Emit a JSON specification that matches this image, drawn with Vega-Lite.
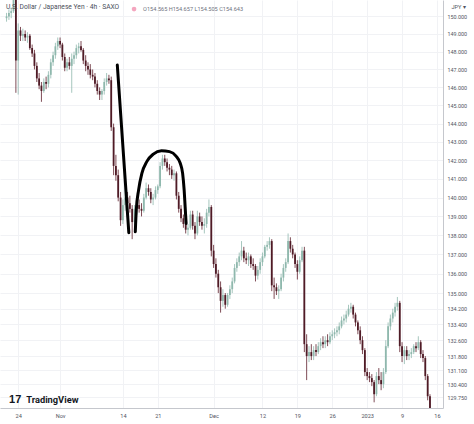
{
  "$schema": "https://vega.github.io/schema/vega-lite/v6.json",
  "width": 443,
  "height": 408,
  "autosize": {"type": "none"},
  "padding": {"left": 0, "top": 0, "right": 31, "bottom": 16},
  "background": "white",
  "config": {"view": {"stroke": null}, "font": "Roboto"},
  "title": {"text": "U.S. Dollar / Japanese Yen · 4h · SAXO", "anchor": "start", "frame": "group", "offset": -11, "dx": 6, "fontSize": 6.7, "fontWeight": "normal", "color": "#4a4e5a", "font": "Roboto"},
  "datasets": {
    "k": [
      {"x":-1.67,"o":149.9,"h":150.2,"l":149.7,"c":150.0},
      {"x":-1.33,"o":150.0,"h":150.4,"l":149.8,"c":150.2},
      {"x":-1.0,"o":150.2,"h":150.5,"l":149.9,"c":150.3},
      {"x":-0.67,"o":150.3,"h":151.9,"l":150.2,"c":151.5},
      {"x":-0.33,"o":151.5,"h":151.9,"l":145.7,"c":147.5},
      {"x":0.0,"o":147.5,"h":149.6,"l":145.6,"c":149.2},
      {"x":0.33,"o":149.2,"h":149.4,"l":148.6,"c":148.9},
      {"x":0.67,"o":148.9,"h":149.3,"l":148.6,"c":149.0},
      {"x":1.0,"o":149.0,"h":149.2,"l":148.6,"c":148.8},
      {"x":1.33,"o":148.8,"h":149.1,"l":148.5,"c":148.9},
      {"x":1.67,"o":148.9,"h":149.0,"l":148.1,"c":148.2},
      {"x":2.0,"o":148.2,"h":148.4,"l":147.7,"c":147.9},
      {"x":2.33,"o":147.9,"h":148.1,"l":147.0,"c":147.2},
      {"x":2.67,"o":147.2,"h":147.4,"l":146.3,"c":146.5},
      {"x":3.0,"o":146.5,"h":146.8,"l":145.9,"c":146.1},
      {"x":3.33,"o":146.1,"h":146.3,"l":145.2,"c":145.8},
      {"x":3.67,"o":145.8,"h":146.5,"l":145.7,"c":146.3},
      {"x":4.0,"o":146.3,"h":146.6,"l":145.9,"c":146.2},
      {"x":4.33,"o":146.2,"h":146.9,"l":146.0,"c":146.7},
      {"x":4.67,"o":146.7,"h":147.6,"l":146.5,"c":147.4},
      {"x":5.0,"o":147.4,"h":148.0,"l":147.2,"c":147.8},
      {"x":5.33,"o":147.8,"h":148.5,"l":147.6,"c":148.3},
      {"x":5.67,"o":148.3,"h":148.8,"l":148.1,"c":148.6},
      {"x":6.0,"o":148.6,"h":148.8,"l":148.2,"c":148.4},
      {"x":6.33,"o":148.4,"h":148.5,"l":147.5,"c":147.7},
      {"x":6.67,"o":147.7,"h":147.9,"l":146.9,"c":147.1},
      {"x":7.0,"o":147.1,"h":147.6,"l":146.9,"c":147.4},
      {"x":7.33,"o":147.4,"h":147.7,"l":147.0,"c":147.2},
      {"x":7.67,"o":147.2,"h":147.9,"l":145.7,"c":147.6},
      {"x":8.0,"o":147.6,"h":148.0,"l":147.3,"c":147.8},
      {"x":8.33,"o":147.8,"h":148.4,"l":147.6,"c":148.2},
      {"x":8.67,"o":148.2,"h":148.5,"l":147.9,"c":148.3},
      {"x":9.0,"o":148.3,"h":148.6,"l":148.0,"c":148.1},
      {"x":9.33,"o":148.1,"h":148.2,"l":147.3,"c":147.5},
      {"x":9.67,"o":147.5,"h":147.8,"l":146.9,"c":147.2},
      {"x":10.0,"o":147.2,"h":147.4,"l":146.7,"c":147.0},
      {"x":10.33,"o":147.0,"h":147.3,"l":146.5,"c":146.7},
      {"x":10.67,"o":146.7,"h":147.0,"l":146.4,"c":146.6},
      {"x":11.0,"o":146.6,"h":146.8,"l":146.0,"c":146.2},
      {"x":11.33,"o":146.2,"h":146.4,"l":145.6,"c":145.8},
      {"x":11.67,"o":145.8,"h":146.0,"l":145.3,"c":145.6},
      {"x":12.0,"o":145.6,"h":145.9,"l":145.3,"c":145.8},
      {"x":12.33,"o":145.8,"h":146.5,"l":145.6,"c":146.3},
      {"x":12.67,"o":146.3,"h":146.8,"l":146.1,"c":146.5},
      {"x":13.0,"o":146.5,"h":146.7,"l":146.2,"c":146.4},
      {"x":13.33,"o":146.4,"h":146.6,"l":143.6,"c":143.8},
      {"x":13.67,"o":143.8,"h":144.0,"l":141.2,"c":141.7},
      {"x":14.0,"o":141.7,"h":142.3,"l":140.9,"c":141.2},
      {"x":14.33,"o":141.2,"h":141.5,"l":139.8,"c":140.0},
      {"x":14.67,"o":140.0,"h":140.3,"l":138.5,"c":138.8},
      {"x":15.0,"o":138.8,"h":139.9,"l":138.6,"c":139.6},
      {"x":15.33,"o":139.6,"h":140.5,"l":139.3,"c":140.0},
      {"x":15.67,"o":140.0,"h":140.3,"l":139.4,"c":139.7},
      {"x":16.0,"o":139.7,"h":140.1,"l":139.2,"c":139.4},
      {"x":16.33,"o":139.4,"h":139.6,"l":137.8,"c":138.7},
      {"x":16.67,"o":138.7,"h":139.6,"l":138.5,"c":139.4},
      {"x":17.0,"o":139.4,"h":139.8,"l":139.1,"c":139.6},
      {"x":17.33,"o":139.6,"h":139.9,"l":139.2,"c":139.4},
      {"x":17.67,"o":139.4,"h":139.7,"l":139.0,"c":139.3},
      {"x":18.0,"o":139.3,"h":140.2,"l":139.2,"c":140.0},
      {"x":18.33,"o":140.0,"h":140.8,"l":139.9,"c":140.5},
      {"x":18.67,"o":140.5,"h":140.7,"l":140.1,"c":140.3},
      {"x":19.0,"o":140.3,"h":140.5,"l":139.7,"c":139.9},
      {"x":19.33,"o":139.9,"h":140.2,"l":139.6,"c":140.0},
      {"x":19.67,"o":140.0,"h":140.6,"l":139.9,"c":140.4},
      {"x":20.0,"o":140.4,"h":140.7,"l":140.2,"c":140.6},
      {"x":20.33,"o":140.6,"h":141.9,"l":140.5,"c":141.7},
      {"x":20.67,"o":141.7,"h":142.3,"l":141.5,"c":142.1},
      {"x":21.0,"o":142.1,"h":142.3,"l":141.7,"c":141.9},
      {"x":21.33,"o":141.9,"h":142.1,"l":141.4,"c":141.6},
      {"x":21.67,"o":141.6,"h":141.8,"l":141.2,"c":141.5},
      {"x":22.0,"o":141.5,"h":141.7,"l":141.0,"c":141.2},
      {"x":22.33,"o":141.2,"h":141.5,"l":140.9,"c":141.3},
      {"x":22.67,"o":141.3,"h":141.4,"l":139.9,"c":140.1},
      {"x":23.0,"o":140.1,"h":140.3,"l":139.2,"c":139.4},
      {"x":23.33,"o":139.4,"h":139.6,"l":138.7,"c":138.9},
      {"x":23.67,"o":138.9,"h":139.1,"l":138.4,"c":138.6},
      {"x":24.0,"o":138.6,"h":138.8,"l":138.1,"c":138.3},
      {"x":24.33,"o":138.3,"h":138.6,"l":138.0,"c":138.4},
      {"x":24.67,"o":138.4,"h":139.3,"l":138.3,"c":139.1},
      {"x":25.0,"o":139.1,"h":139.3,"l":138.3,"c":138.5},
      {"x":25.33,"o":138.5,"h":138.7,"l":137.8,"c":138.1},
      {"x":25.67,"o":138.1,"h":139.3,"l":138.0,"c":139.0},
      {"x":26.0,"o":139.0,"h":139.2,"l":138.5,"c":138.7},
      {"x":26.33,"o":138.7,"h":139.0,"l":138.3,"c":138.5},
      {"x":26.67,"o":138.5,"h":138.9,"l":138.1,"c":138.6},
      {"x":27.0,"o":138.6,"h":139.4,"l":138.4,"c":139.2},
      {"x":27.33,"o":139.2,"h":139.9,"l":139.0,"c":139.5},
      {"x":27.67,"o":139.5,"h":139.6,"l":136.9,"c":137.2},
      {"x":28.0,"o":137.2,"h":137.5,"l":136.3,"c":136.5},
      {"x":28.33,"o":136.5,"h":136.8,"l":135.8,"c":136.0},
      {"x":28.67,"o":136.0,"h":136.2,"l":135.0,"c":135.3},
      {"x":29.0,"o":135.3,"h":135.6,"l":134.0,"c":134.6},
      {"x":29.33,"o":134.6,"h":135.2,"l":134.3,"c":134.9},
      {"x":29.67,"o":134.9,"h":135.0,"l":134.2,"c":134.4},
      {"x":30.0,"o":134.4,"h":135.0,"l":134.3,"c":134.9},
      {"x":30.33,"o":134.9,"h":135.4,"l":134.7,"c":135.2},
      {"x":30.67,"o":135.2,"h":135.8,"l":135.0,"c":135.6},
      {"x":31.0,"o":135.6,"h":136.5,"l":135.5,"c":136.3},
      {"x":31.33,"o":136.3,"h":136.8,"l":136.1,"c":136.6},
      {"x":31.67,"o":136.6,"h":137.1,"l":136.4,"c":136.9},
      {"x":32.0,"o":136.9,"h":137.7,"l":136.7,"c":137.2},
      {"x":32.33,"o":137.2,"h":137.4,"l":136.6,"c":136.8},
      {"x":32.67,"o":136.8,"h":137.1,"l":136.5,"c":136.7},
      {"x":33.0,"o":136.7,"h":137.1,"l":136.4,"c":136.9},
      {"x":33.33,"o":136.9,"h":137.0,"l":136.3,"c":136.5},
      {"x":33.67,"o":136.5,"h":136.8,"l":136.2,"c":136.4},
      {"x":34.0,"o":136.4,"h":136.5,"l":135.6,"c":135.9},
      {"x":34.33,"o":135.9,"h":136.4,"l":135.7,"c":136.2},
      {"x":34.67,"o":136.2,"h":136.8,"l":136.0,"c":136.6},
      {"x":35.0,"o":136.6,"h":137.1,"l":136.4,"c":136.9},
      {"x":35.33,"o":136.9,"h":137.5,"l":136.8,"c":137.4},
      {"x":35.67,"o":137.4,"h":137.7,"l":137.2,"c":137.5},
      {"x":36.0,"o":137.5,"h":137.9,"l":137.3,"c":137.7},
      {"x":36.33,"o":137.7,"h":137.8,"l":135.1,"c":135.4},
      {"x":36.67,"o":135.4,"h":135.8,"l":134.7,"c":135.3},
      {"x":37.0,"o":135.3,"h":135.5,"l":134.9,"c":135.1},
      {"x":37.33,"o":135.1,"h":135.4,"l":134.7,"c":135.2},
      {"x":37.67,"o":135.2,"h":136.0,"l":135.1,"c":135.8},
      {"x":38.0,"o":135.8,"h":136.5,"l":135.6,"c":136.3},
      {"x":38.33,"o":136.3,"h":136.8,"l":136.1,"c":136.6},
      {"x":38.67,"o":136.6,"h":138.1,"l":136.5,"c":137.7},
      {"x":39.0,"o":137.7,"h":137.9,"l":137.1,"c":137.3},
      {"x":39.33,"o":137.3,"h":137.5,"l":136.8,"c":137.0},
      {"x":39.67,"o":137.0,"h":137.1,"l":136.3,"c":136.5},
      {"x":40.0,"o":136.5,"h":136.7,"l":135.7,"c":136.1},
      {"x":40.33,"o":136.1,"h":136.9,"l":136.0,"c":136.7},
      {"x":40.67,"o":136.7,"h":137.4,"l":136.6,"c":137.2},
      {"x":41.0,"o":137.2,"h":137.4,"l":132.0,"c":132.4},
      {"x":41.33,"o":132.4,"h":132.9,"l":130.6,"c":131.8},
      {"x":41.67,"o":131.8,"h":132.3,"l":131.5,"c":132.0},
      {"x":42.0,"o":132.0,"h":132.4,"l":131.6,"c":131.8},
      {"x":42.33,"o":131.8,"h":132.3,"l":131.6,"c":132.1},
      {"x":42.67,"o":132.1,"h":132.4,"l":131.8,"c":132.0},
      {"x":43.0,"o":132.0,"h":132.5,"l":131.9,"c":132.3},
      {"x":43.33,"o":132.3,"h":132.7,"l":132.1,"c":132.5},
      {"x":43.67,"o":132.5,"h":132.8,"l":132.2,"c":132.4},
      {"x":44.0,"o":132.4,"h":132.8,"l":132.2,"c":132.6},
      {"x":44.33,"o":132.6,"h":132.9,"l":132.3,"c":132.5},
      {"x":44.67,"o":132.5,"h":133.0,"l":132.4,"c":132.8},
      {"x":45.0,"o":132.8,"h":133.1,"l":132.6,"c":132.9},
      {"x":45.33,"o":132.9,"h":133.2,"l":132.7,"c":133.0},
      {"x":45.67,"o":133.0,"h":133.3,"l":132.8,"c":133.1},
      {"x":46.0,"o":133.1,"h":133.5,"l":132.9,"c":133.3},
      {"x":46.33,"o":133.3,"h":133.8,"l":133.2,"c":133.6},
      {"x":46.67,"o":133.6,"h":133.9,"l":133.4,"c":133.7},
      {"x":47.0,"o":133.7,"h":134.1,"l":133.5,"c":133.9},
      {"x":47.33,"o":133.9,"h":134.4,"l":133.8,"c":134.2},
      {"x":47.67,"o":134.2,"h":134.5,"l":134.0,"c":134.3},
      {"x":48.0,"o":134.3,"h":134.4,"l":133.7,"c":133.9},
      {"x":48.33,"o":133.9,"h":134.0,"l":133.3,"c":133.5},
      {"x":48.67,"o":133.5,"h":133.6,"l":132.9,"c":133.1},
      {"x":49.0,"o":133.1,"h":133.3,"l":132.4,"c":132.6},
      {"x":49.33,"o":132.6,"h":132.8,"l":131.9,"c":132.1},
      {"x":49.67,"o":132.1,"h":132.2,"l":130.8,"c":131.0},
      {"x":50.0,"o":131.0,"h":131.2,"l":130.6,"c":130.8},
      {"x":50.33,"o":130.8,"h":131.0,"l":130.5,"c":130.7},
      {"x":50.67,"o":130.7,"h":130.9,"l":130.3,"c":130.5},
      {"x":51.0,"o":130.5,"h":130.6,"l":129.5,"c":129.9},
      {"x":51.33,"o":129.9,"h":131.0,"l":129.8,"c":130.8},
      {"x":51.67,"o":130.8,"h":131.2,"l":130.4,"c":130.6},
      {"x":52.0,"o":130.6,"h":131.0,"l":130.1,"c":130.4},
      {"x":52.33,"o":130.4,"h":131.2,"l":130.2,"c":131.0},
      {"x":52.67,"o":131.0,"h":132.6,"l":130.9,"c":132.3},
      {"x":53.0,"o":132.3,"h":133.5,"l":132.2,"c":133.3},
      {"x":53.33,"o":133.3,"h":133.9,"l":133.1,"c":133.7},
      {"x":53.67,"o":133.7,"h":134.2,"l":133.5,"c":134.0},
      {"x":54.0,"o":134.0,"h":134.5,"l":133.8,"c":134.3},
      {"x":54.33,"o":134.3,"h":134.8,"l":134.1,"c":134.5},
      {"x":54.67,"o":134.5,"h":134.6,"l":132.0,"c":132.3},
      {"x":55.0,"o":132.3,"h":132.5,"l":131.5,"c":131.8},
      {"x":55.33,"o":131.8,"h":132.3,"l":131.4,"c":132.1},
      {"x":55.67,"o":132.1,"h":132.3,"l":131.6,"c":131.8},
      {"x":56.0,"o":131.8,"h":132.1,"l":131.6,"c":131.9},
      {"x":56.33,"o":131.9,"h":132.2,"l":131.7,"c":132.0},
      {"x":56.67,"o":132.0,"h":132.4,"l":131.9,"c":132.3},
      {"x":57.0,"o":132.3,"h":132.5,"l":132.0,"c":132.2},
      {"x":57.33,"o":132.2,"h":132.8,"l":132.1,"c":132.5},
      {"x":57.67,"o":132.5,"h":132.6,"l":131.7,"c":131.9},
      {"x":58.0,"o":131.9,"h":132.1,"l":131.5,"c":131.7},
      {"x":58.33,"o":131.7,"h":131.8,"l":130.6,"c":130.8},
      {"x":58.67,"o":130.8,"h":130.9,"l":129.6,"c":129.8},
      {"x":59.0,"o":129.8,"h":129.9,"l":128.8,"c":129.0}
    ],
    "a": [
      {"g":"a","s":1,"x":14.2,"p":147.25},
      {"g":"a","s":2,"x":15.85,"p":138.14},
      {"g":"b","s":1,"x":16.78,"p":138.19},
      {"g":"b","s":2,"x":16.92,"p":139.34},
      {"g":"b","s":3,"x":17.25,"p":140.4},
      {"g":"b","s":4,"x":17.72,"p":141.3},
      {"g":"b","s":5,"x":18.42,"p":141.93},
      {"g":"b","s":6,"x":19.36,"p":142.34},
      {"g":"b","s":7,"x":20.52,"p":142.52},
      {"g":"b","s":8,"x":21.68,"p":142.47},
      {"g":"b","s":9,"x":22.62,"p":142.23},
      {"g":"b","s":10,"x":23.22,"p":141.84},
      {"g":"b","s":11,"x":23.56,"p":141.3},
      {"g":"b","s":12,"x":23.78,"p":140.4},
      {"g":"b","s":13,"x":23.92,"p":139.51},
      {"g":"b","s":14,"x":24.06,"p":138.63}
    ]
  },
  "encoding": {
    "x": {"field": "x", "type": "quantitative",
      "scale": {"domain": [-1.89, 60.15], "nice": false, "zero": false},
      "axis": {"orient": "bottom", "title": null, "values": [0, 6, 15, 20, 28, 35, 40, 45, 50, 55, 60],
        "labelExpr": "datum.value==0?'24':datum.value==6?'Nov':datum.value==15?'14':datum.value==20?'21':datum.value==28?'Dec':datum.value==35?'12':datum.value==40?'19':datum.value==45?'26':datum.value==50?'2023':datum.value==55?'9':'16'",
        "labelFontSize": 5.6, "labelColor": "#50535e", "labelPadding": 5, "ticks": false,
        "domainColor": "#c5c7cd", "domainWidth": 1, "grid": true, "gridColor": "#f1f2f5", "gridWidth": 1, "labelFlush": false}
    }
  },
  "layer": [
    {
      "data": {"name": "k"},
      "mark": {"type": "rule", "clip": true, "strokeWidth": 0.8},
      "encoding": {
        "y": {"field": "l", "type": "quantitative",
          "scale": {"type": "log", "domain": [129.22, 150.94], "nice": false, "zero": false},
          "axis": {"orient": "right", "values": [150, 149, 148, 147, 146, 145, 144, 143, 142, 141, 140, 139, 138, 137, 136, 135, 134.2, 133.4, 132.6, 131.8, 131.1, 130.4, 129.75],
            "format": ".3f", "labelFontSize": 5.4, "labelColor": "#50535e", "labelPadding": 4, "ticks": false,
            "domainColor": "#c5c7cd", "domainWidth": 1, "grid": true, "gridColor": "#f1f2f5", "gridWidth": 1,
            "title": "JPY ▾", "titleAngle": 0, "titleAlign": "left", "titleBaseline": "middle", "titleX": 8, "titleY": 6,
            "titleFontSize": 5.6, "titleFontWeight": "normal", "titleColor": "#50535e"}},
        "y2": {"field": "h"},
        "color": {"condition": {"test": "datum.c >= datum.o", "value": "#8fb8ad"}, "value": "#5e1f2c"}
      }
    },
    {
      "data": {"name": "k"},
      "mark": {"type": "bar", "clip": true, "size": 1.8},
      "encoding": {
        "y": {"field": "o", "type": "quantitative"},
        "y2": {"field": "c"},
        "color": {"condition": {"test": "datum.c >= datum.o", "value": "#8fb8ad"}, "value": "#4f1b26"}
      }
    },
    {
      "data": {"name": "a"},
      "mark": {"type": "line", "color": "black", "strokeWidth": 3, "strokeCap": "round", "strokeJoin": "round", "interpolate": "monotone"},
      "encoding": {
        "y": {"field": "p", "type": "quantitative"},
        "detail": {"field": "g"},
        "order": {"field": "s", "type": "quantitative"}
      }
    },
    {
      "data": {"values": [{"x": 16.6, "p": 150.42}]},
      "mark": {"type": "point", "filled": true, "color": "#f4a6bf", "size": 22, "opacity": 1},
      "encoding": {"y": {"field": "p", "type": "quantitative"}}
    },
    {
      "data": {"values": [{"x": 17.9, "p": 150.42, "t": "O154.565 H154.657 L154.505 C154.643"}]},
      "mark": {"type": "text", "align": "left", "baseline": "middle", "fontSize": 5.6, "color": "#6f7380", "font": "Roboto"},
      "encoding": {"y": {"field": "p", "type": "quantitative"}, "text": {"field": "t"}}
    },
    {
      "data": {"values": [{"x": -1.3, "p": 129.62, "t": "17"}]},
      "mark": {"type": "text", "align": "left", "baseline": "middle", "fontSize": 11, "fontWeight": "bold", "color": "#131722", "font": "Liberation Sans"},
      "encoding": {"y": {"field": "p", "type": "quantitative"}, "text": {"field": "t"}}
    },
    {
      "data": {"values": [{"x": 1.15, "p": 129.62, "t": "TradingView"}]},
      "mark": {"type": "text", "align": "left", "baseline": "middle", "fontSize": 9.3, "fontWeight": "bold", "color": "#131722", "font": "Roboto"},
      "encoding": {"y": {"field": "p", "type": "quantitative"}, "text": {"field": "t"}}
    }
  ]
}
